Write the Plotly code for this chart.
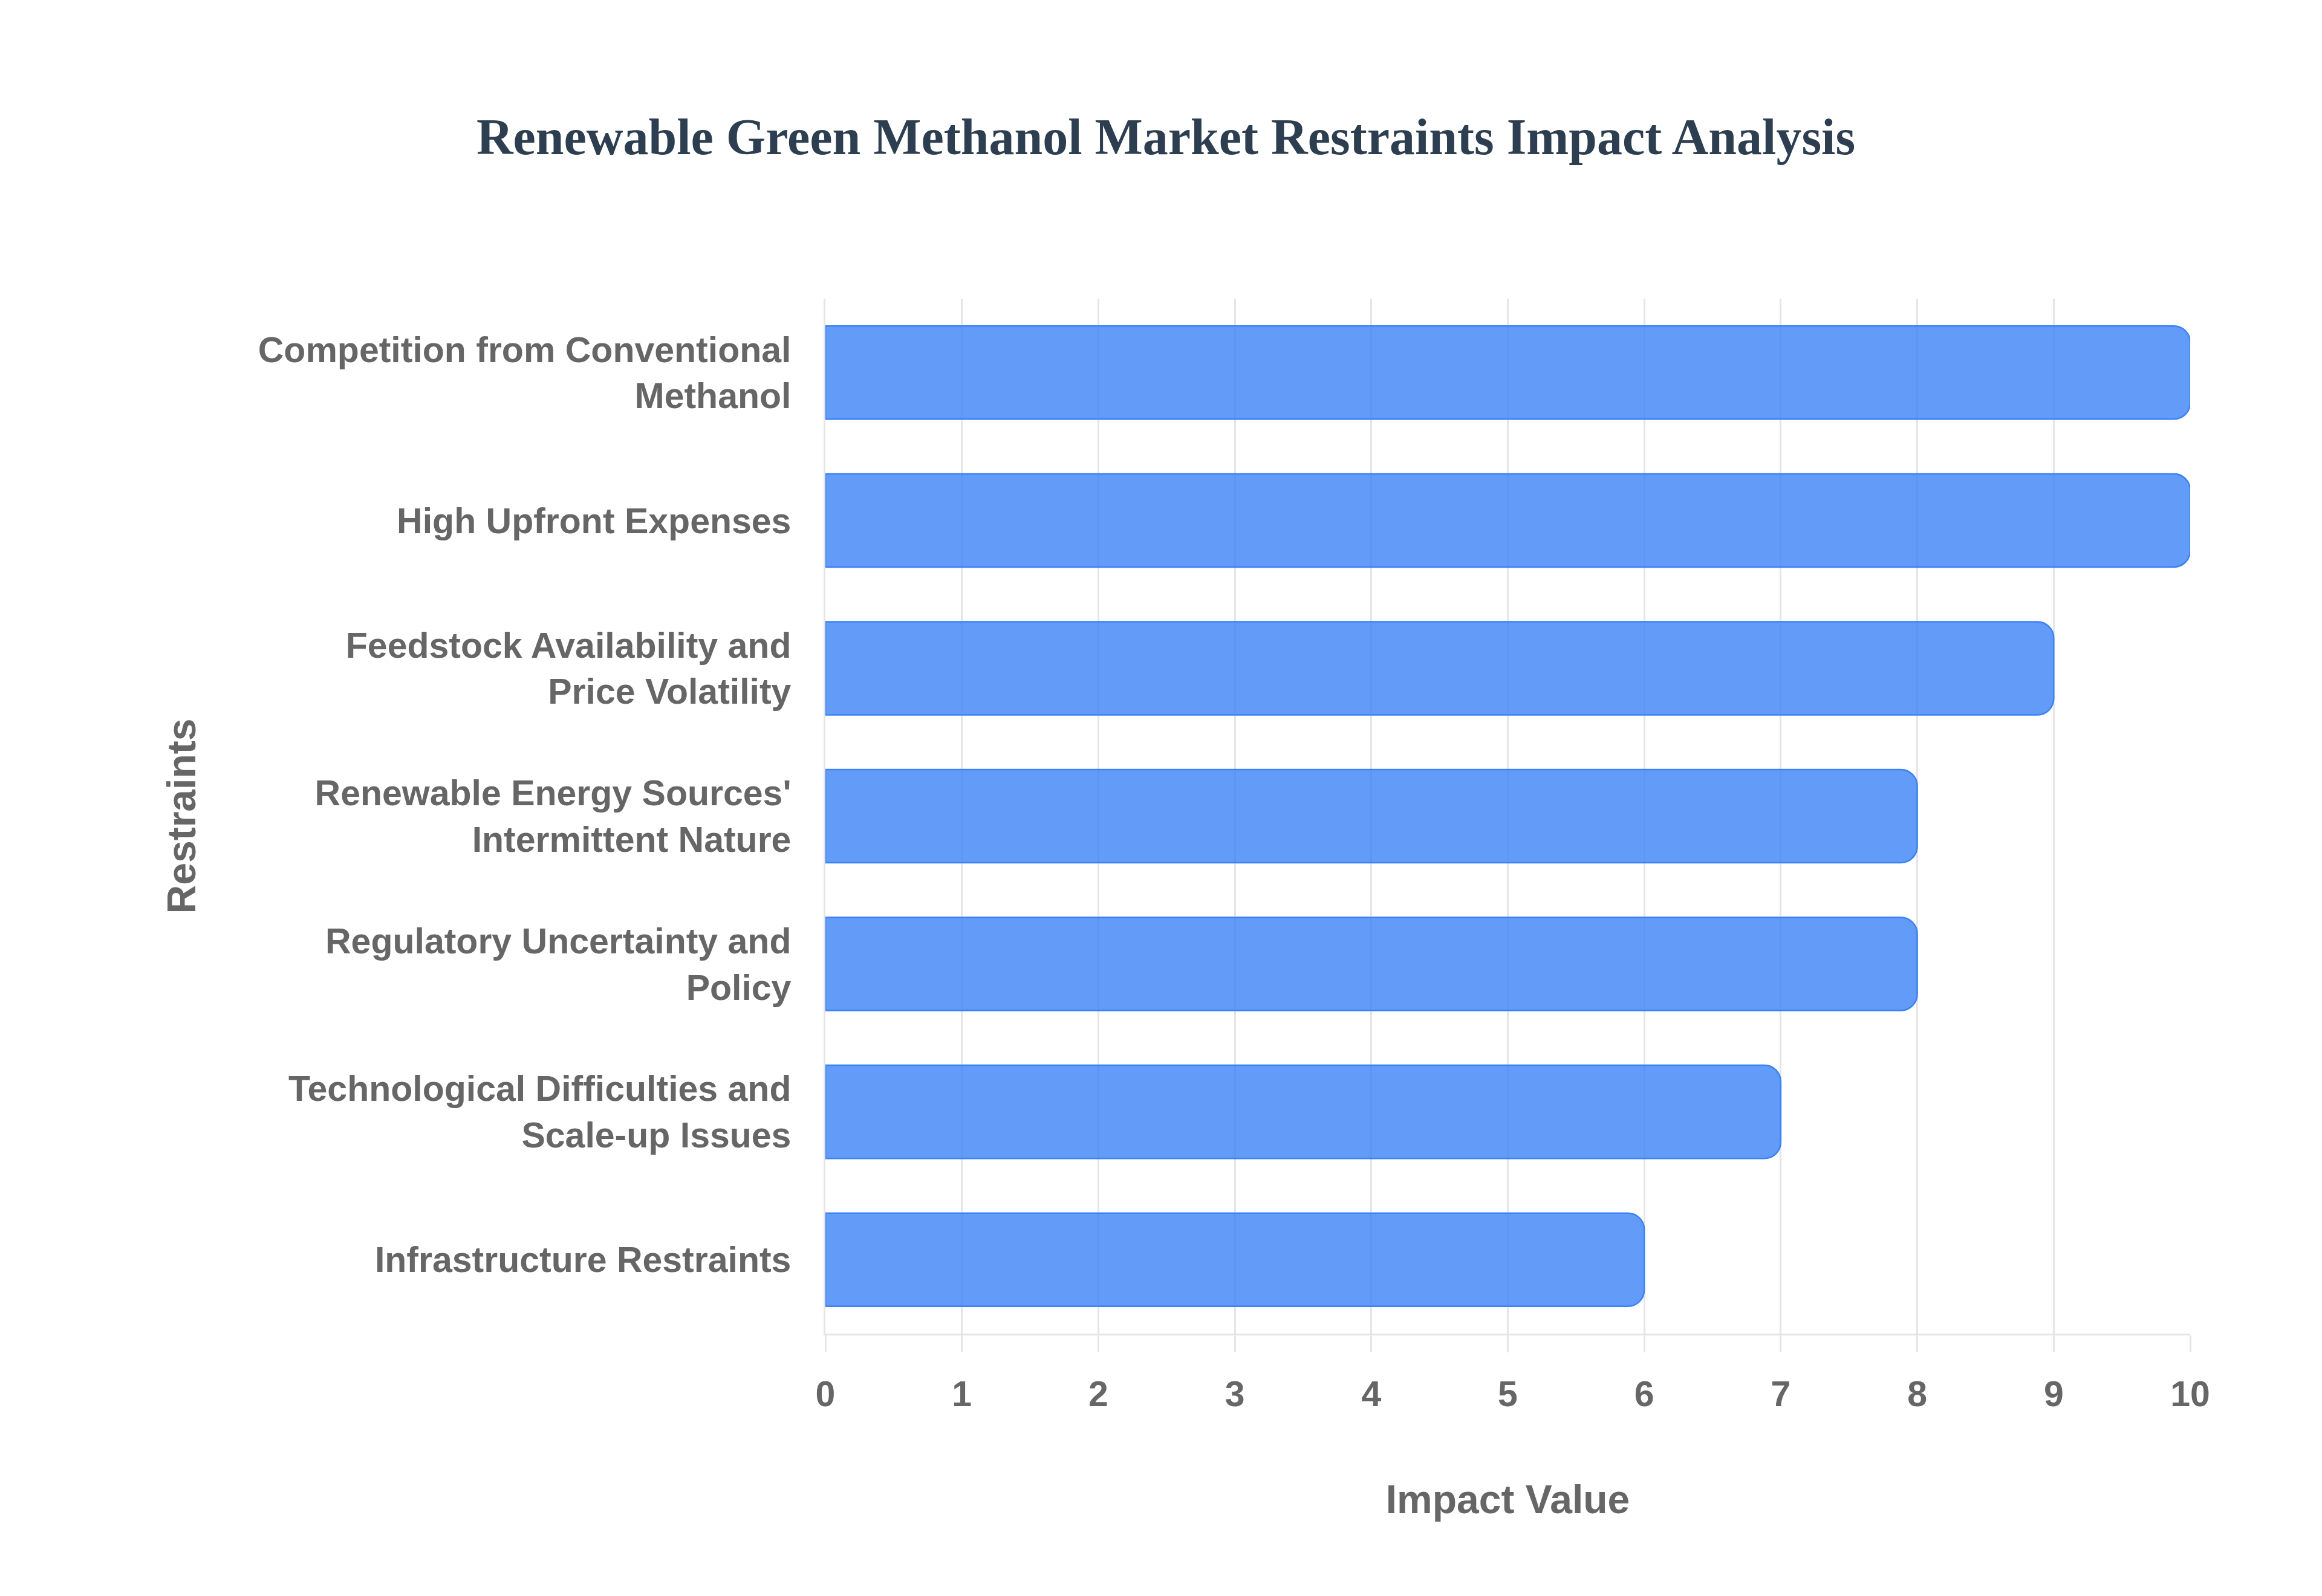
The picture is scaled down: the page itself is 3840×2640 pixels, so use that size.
import plotly.graph_objects as go

# restraint categories, top to bottom as shown
restraints = [
    "Competition from Conventional<br>Methanol",
    "High Upfront Expenses",
    "Feedstock Availability and<br>Price Volatility",
    "Renewable Energy Sources'<br>Intermittent Nature",
    "Regulatory Uncertainty and<br>Policy",
    "Technological Difficulties and<br>Scale-up Issues",
    "Infrastructure Restraints",
]
impact = [10, 10, 9, 8, 8, 7, 6]
x_ticks = [0, 1, 2, 3, 4, 5, 6, 7, 8, 9, 10]

grid = "rgba(0,0,0,0.1)"
label_font = dict(family="Liberation Sans", size=59, color="#666666", weight="bold")

fig = go.Figure(go.Bar(
    x=impact, y=restraints, orientation="h",
    marker=dict(color="rgba(59,130,246,0.8)",
                line=dict(color="rgb(59,130,246)", width=2.5),
                cornerradius=27),
))

fig.update_layout(
    width=3840, height=2640,
    margin=dict(l=1357, r=226, t=486, b=442),
    paper_bgcolor="white", plot_bgcolor="white",
    bargap=0.37, showlegend=False,
    title=dict(text="<b>Renewable Green Methanol Market Restraints Impact Analysis</b>",
               x=0.5, xanchor="center", y=1 - 218 / 2640, yanchor="middle",
               font=dict(family="Liberation Serif", size=84, color="#2c3e50")),
    xaxis=dict(range=[0, 10], tickvals=x_ticks,
               showgrid=True, gridcolor=grid, gridwidth=2.5, zeroline=False,
               showline=True, linecolor=grid, linewidth=2.5,
               ticks="outside", ticklen=28, tickwidth=2.5, tickcolor=grid,
               tickfont=label_font, ticklabelstandoff=18,
               title=dict(text="Impact Value", standoff=120,
                          font=dict(family="Liberation Sans", size=66, color="#666666", weight="bold"))),
    yaxis=dict(autorange="reversed", showgrid=False, zeroline=False,
               showline=True, linecolor=grid, linewidth=2.5, ticks="",
               tickfont=label_font, ticklabelstandoff=42,
               title=dict(text="Restraints", standoff=82,
                          font=dict(family="Liberation Sans", size=66, color="#666666", weight="bold"))),
)

fig.write_html("out.html")
